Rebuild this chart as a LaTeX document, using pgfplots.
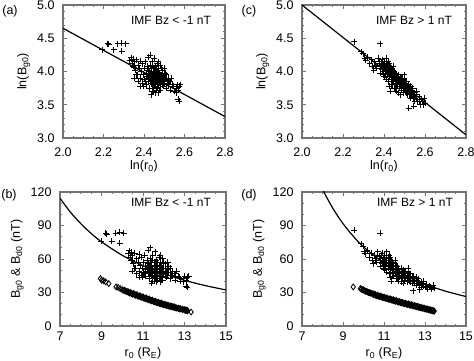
\documentclass[border=0pt]{standalone}
\usepackage{fontspec}
\setmainfont{Liberation Sans}
\usepackage{pgfplots}
\usepackage{pgfplotstable}
\pgfplotsset{compat=1.18}
\definecolor{framegray}{gray}{0.45}

\pgfplotstableread{
lr lB
2.195 4.33
2.220 4.42
2.225 4.41
2.250 4.33
2.270 4.42
2.290 4.43
2.310 4.42
2.290 4.31
2.330 4.17
2.335 4.21
2.340 4.12
2.345 4.19
2.350 4.07
2.350 4.15
2.355 4.02
2.360 4.18
2.365 3.95
2.370 3.85
2.370 4.10
2.375 4.05
2.380 4.16
2.380 3.90
2.385 4.00
2.390 3.82
2.390 4.12
2.395 3.95
2.400 4.05
2.400 3.88
2.405 4.15
2.410 3.98
2.410 3.80
2.415 4.08
2.415 3.92
2.420 4.22
2.420 4.02
2.420 3.85
2.425 3.95
2.425 3.75
2.430 4.10
2.430 3.90
2.430 4.25
2.435 4.00
2.435 3.82
2.440 3.95
2.440 4.15
2.440 3.70
2.445 3.88
2.445 4.05
2.450 3.98
2.450 3.78
2.450 4.20
2.455 3.92
2.455 4.08
2.455 3.68
2.460 3.85
2.460 4.00
2.465 3.95
2.465 4.12
2.465 3.75
2.470 3.90
2.470 4.05
2.475 3.82
2.475 3.98
2.480 3.88
2.480 4.10
2.480 3.72
2.485 3.95
2.490 3.85
2.490 4.02
2.495 3.78
2.500 3.92
2.500 3.82
2.505 3.98
2.510 3.88
2.510 3.75
2.520 3.90
2.520 3.80
2.530 3.85
2.530 3.72
2.540 3.80
2.550 3.70
2.560 3.75
2.565 3.80
2.570 3.72
2.575 3.78
2.575 3.55
2.570 3.58
2.580 3.80
2.560 3.68
2.435 3.65
2.445 3.92
2.425 3.88
2.415 4.05
2.455 3.85
2.465 3.88
2.475 3.92
2.445 3.98
2.435 3.93
2.455 3.95
2.460 3.72
2.470 3.68
2.480 3.80
2.490 3.95
2.500 4.05
2.470 4.15
2.405 3.85
2.395 3.78
2.380 3.78
2.360 3.95
2.350 3.90
2.345 4.08
2.440 3.85
2.450 3.90
2.430 3.98
2.420 3.95
2.510 3.95
2.525 3.85
2.545 3.78
2.535 3.90
2.485 3.88
2.495 3.90
2.425 4.00
2.435 4.05
2.445 3.80
2.450 4.05
2.455 4.00
2.460 3.92
2.465 3.82
2.470 3.98
2.475 3.85
2.480 3.95
2.485 4.05
2.490 3.88
2.495 3.85
2.500 3.98
2.505 3.88
2.515 3.82
2.440 4.08
2.430 3.85
2.420 3.90
2.410 3.92
2.450 3.85
2.460 4.05
2.470 3.80
2.480 3.85
2.490 3.80
2.440 3.75
2.455 3.80
2.465 4.00
2.445 3.70
2.475 3.72
}\dataneg

\pgfplotstableread{
lr lB
2.255 4.45
2.290 4.30
2.300 4.27
2.305 4.20
2.310 4.17
2.320 4.22
2.330 4.12
2.340 4.18
2.345 4.08
2.350 4.02
2.355 4.15
2.360 4.10
2.365 4.05
2.370 4.20
2.375 4.13
2.380 4.42
2.380 4.08
2.380 3.98
2.385 4.15
2.390 4.03
2.390 4.18
2.395 4.10
2.395 3.95
2.400 4.05
2.400 4.15
2.400 3.92
2.405 4.08
2.405 3.98
2.410 4.12
2.410 4.02
2.410 3.88
2.415 4.05
2.415 3.95
2.420 4.10
2.420 3.98
2.420 3.85
2.425 4.02
2.425 3.92
2.430 4.07
2.430 3.95
2.430 3.70
2.435 3.98
2.435 3.88
2.440 4.03
2.440 3.92
2.440 3.80
2.445 3.95
2.445 3.85
2.450 4.00
2.450 3.88
2.450 3.75
2.455 3.92
2.455 3.82
2.460 3.95
2.460 3.85
2.460 3.70
2.465 3.90
2.465 3.78
2.470 3.95
2.470 3.85
2.475 3.88
2.475 3.75
2.480 3.92
2.480 3.80
2.480 3.65
2.485 3.85
2.485 3.72
2.490 3.90
2.490 3.78
2.495 3.82
2.495 3.68
2.500 3.88
2.500 3.75
2.500 3.95
2.505 3.80
2.505 3.70
2.510 3.85
2.510 3.72
2.515 3.78
2.515 3.65
2.520 3.80
2.520 3.70
2.520 3.45
2.525 3.75
2.530 3.68
2.530 3.60
2.535 3.72
2.540 3.65
2.540 3.75
2.545 3.60
2.550 3.68
2.550 3.55
2.555 3.62
2.560 3.58
2.560 3.70
2.565 3.55
2.570 3.62
2.575 3.50
2.580 3.58
2.585 3.55
2.590 3.50
2.595 3.60
2.600 3.52
2.545 3.48
2.470 3.68
2.455 3.75
2.435 3.80
2.425 3.78
2.445 4.08
2.425 4.12
2.410 4.20
2.435 3.92
2.465 3.88
2.485 3.80
2.475 3.82
2.495 3.75
2.455 3.90
2.445 3.95
2.415 4.00
2.405 4.02
2.395 4.05
2.500 3.72
2.510 3.78
2.530 3.72
2.460 3.80
2.440 3.88
2.410 4.08
2.415 4.12
2.420 4.05
2.425 3.98
2.430 4.02
2.435 4.05
2.440 3.98
2.445 4.00
2.450 3.92
2.455 3.98
2.460 3.90
2.465 3.85
2.470 3.90
2.475 3.80
2.480 3.85
2.485 3.90
2.490 3.85
2.495 3.78
2.500 3.80
2.505 3.85
2.510 3.68
2.515 3.72
2.520 3.75
2.525 3.65
2.530 3.78
2.535 3.65
2.540 3.70
2.550 3.62
2.560 3.65
2.570 3.55
2.400 4.10
2.390 4.08
2.395 4.00
2.405 3.95
2.420 4.15
}\datapos

\pgfplotstableread{
r Bd
8.95 42.5
9.00 41.0
9.10 40.5
9.20 39.5
9.35 38.0
9.70 35.0
9.80 34.5
9.90 33.5
10.00 32.5
10.05 31.8
10.10 32.0
10.15 31.4
10.20 31.0
10.25 30.6
10.30 30.5
10.325 30.0
10.35 29.5
10.40 30.0
10.425 29.4
10.45 29.0
10.50 28.5
10.525 28.7
10.55 29.2
10.60 28.0
10.625 28.0
10.65 27.5
10.70 28.2
10.725 27.3
10.75 27.0
10.80 26.5
10.825 26.6
10.85 27.2
10.90 26.0
10.925 25.9
10.95 25.5
11.00 26.2
11.025 25.3
11.05 25.0
11.10 24.6
11.125 24.6
11.15 25.3
11.20 24.0
11.225 24.0
11.25 23.6
11.30 24.2
11.325 23.4
11.35 23.0
11.40 22.6
11.425 22.8
11.45 23.2
11.50 22.0
11.525 22.2
11.55 21.6
11.60 22.2
11.625 21.5
11.65 21.0
11.70 20.7
11.725 21.0
11.75 21.3
11.80 20.2
11.825 20.4
11.85 19.8
11.90 20.4
11.925 19.8
11.95 19.4
12.00 19.0
12.025 19.3
12.05 19.6
12.10 18.6
12.125 18.7
12.15 18.2
12.20 18.8
12.225 18.2
12.25 17.8
12.30 17.5
12.325 17.7
12.35 18.0
12.40 17.1
12.425 17.2
12.45 16.8
12.50 17.3
12.525 16.7
12.55 16.4
12.60 16.1
12.625 16.2
12.70 15.8
12.725 15.7
12.75 15.3
12.80 15.6
12.825 15.2
12.90 14.9
12.925 14.7
13.00 14.6
13.025 14.2
13.05 14.0
13.10 14.3
13.125 13.8
13.15 13.6
13.32 12.5
}\dianeg

\pgfplotstableread{
r Bd
9.50 35.0
9.85 33.5
9.90 33.0
9.95 32.3
10.00 32.5
10.05 31.5
10.10 31.2
10.15 31.0
10.20 30.5
10.25 30.0
10.30 29.8
10.35 29.5
10.40 29.2
10.45 28.8
10.475 28.6
10.50 28.0
10.55 28.5
10.575 28.0
10.60 27.5
10.65 27.0
10.675 27.3
10.70 27.6
10.75 26.6
10.775 26.7
10.80 26.2
10.85 26.8
10.875 26.2
10.90 25.8
10.95 25.4
10.975 25.6
11.00 26.0
11.05 25.0
11.075 25.0
11.10 24.6
11.15 25.2
11.175 24.5
11.20 24.2
11.25 23.8
11.275 24.0
11.30 24.4
11.35 23.4
11.375 23.5
11.40 23.0
11.45 23.6
11.475 23.0
11.50 22.6
11.55 22.2
11.575 22.5
11.60 22.8
11.65 21.8
11.675 21.9
11.70 21.4
11.75 22.0
11.775 21.4
11.80 21.0
11.85 20.7
11.875 20.9
11.90 21.2
11.95 20.3
11.975 20.4
12.00 20.0
12.05 20.5
12.075 19.9
12.10 19.6
12.15 19.3
12.175 19.4
12.20 19.8
12.25 18.9
12.275 18.9
12.30 18.6
12.35 19.1
12.375 18.5
12.40 18.2
12.45 17.9
12.475 18.0
12.50 18.4
12.55 17.5
12.575 17.5
12.60 17.2
12.65 17.6
12.675 17.0
12.70 16.8
12.75 16.5
12.775 16.5
12.80 16.9
12.85 16.1
12.875 16.0
12.90 15.8
12.95 16.2
12.975 15.6
13.00 15.4
13.05 15.1
13.075 15.1
13.10 15.5
13.15 14.7
13.175 14.6
13.20 14.4
13.25 14.7
13.275 14.2
13.30 14.0
13.35 13.7
13.375 13.7
13.40 13.9
13.425 13.5
13.45 13.3
}\diapos

\pgfplotsset{
  panel/.style={
    scale only axis,
    axis line style={draw=framegray, line width=1.3pt},
    tick style={framegray, line width=0.7pt},
    major tick length=4pt, minor tick length=2.2pt,
    tick align=inside,
    every tick label/.append style={font=\fontsize{12.5}{14}\selectfont},
    label style={font=\fontsize{12.5}{14}\selectfont},
    /pgf/number format/assume math mode=true,
  },
  toppanel/.style={
    panel,
    xmin=2.0, xmax=2.8, ymin=3.0, ymax=5.0,
    xtick={2.0,2.2,2.4,2.6,2.8}, ytick={3.0,3.5,4.0,4.5,5.0},
    minor x tick num=3, minor y tick num=4,
    xticklabel style={/pgf/number format/.cd, fixed, fixed zerofill, precision=1},
    yticklabel style={/pgf/number format/.cd, fixed, fixed zerofill, precision=1},
    xticklabel shift=6pt, yticklabel shift=5pt,
    xlabel={ln(r\textsubscript{0})},
    ylabel={ln(B\textsubscript{g0})},
    xlabel style={yshift=3pt},
  },
  botpanel/.style={
    panel,
    xmin=7, xmax=15, ymin=0, ymax=120,
    xtick={7,9,11,13,15}, ytick={0,30,60,90,120},
    minor x tick num=3, minor y tick num=2,
    xticklabel shift=2pt, yticklabel shift=5pt,
    xlabel={r\textsubscript{0} (R\textsubscript{E})},
    ylabel={B\textsubscript{g0} \& B\textsubscript{d0} (nT)},
  },
  plusmk/.style={only marks, mark=+, mark size=3pt, mark options={line width=0.65pt, black}},
  diamk/.style={only marks, mark=diamond, mark size=2.9pt, mark options={line width=0.85pt, black, fill=white}},
  fitline/.style={black, line width=1.2pt, no marks},
}

\begin{document}
\begin{tikzpicture}[x=1pt,y=1pt]
\path[use as bounding box] (0,0) rectangle (474,361);

% (a)
\begin{axis}[toppanel, at={(63pt,223pt)}, anchor=south west, width=162pt, height=133pt]
\addplot[plusmk] table[x=lr, y=lB] {\dataneg};
\addplot[fitline] coordinates {(2.0,4.65) (2.8,3.322)};
\end{axis}

% (c)
\begin{axis}[toppanel, at={(302pt,223pt)}, anchor=south west, width=164pt, height=133pt]
\addplot[plusmk] table[x=lr, y=lB] {\datapos};
\addplot[fitline] coordinates {(2.0,5.0) (2.8,3.048)};
\end{axis}

% (b)
\begin{axis}[botpanel, at={(60pt,35pt)}, anchor=south west, width=166pt, height=134pt]
\addplot[plusmk] table[x expr={exp(\thisrow{lr})}, y expr={exp(\thisrow{lB})}] {\dataneg};
\addplot[diamk] table[x=r, y=Bd] {\dianeg};
\addplot[fitline, smooth] coordinates {(7,114.4) (7.5,102.0) (8,91.7) (8.5,82.9) (9,75.4) (10,63.3) (11,54.0) (12,46.8) (13,40.9) (14,36.2) (15,32.3)};
\end{axis}

% (d)
\begin{axis}[botpanel, at={(302pt,35pt)}, anchor=south west, width=164pt, height=134pt]
\addplot[plusmk] table[x expr={exp(\thisrow{lr})}, y expr={exp(\thisrow{lB})}] {\datapos};
\addplot[diamk] table[x=r, y=Bd] {\diapos};
\addplot[fitline, smooth] coordinates {(8.0,122.3) (8.5,105.5) (9,91.7) (9.5,80.4) (10,70.9) (11,56.2) (12,45.5) (13,37.4) (14,31.2) (15,26.4)};
\end{axis}

\node[font=\fontsize{12.5}{14}\selectfont] at (10,350) {(a)};
\node[font=\fontsize{12.5}{14}\selectfont] at (249,350) {(c)};
\node[font=\fontsize{12.5}{14}\selectfont] at (9,166) {(b)};
\node[font=\fontsize{12.5}{14}\selectfont] at (249,166) {(d)};
\node[font=\fontsize{12}{14}\selectfont] at (171,341) {IMF Bz < -1 nT};
\node[font=\fontsize{12}{14}\selectfont] at (414,341) {IMF Bz > 1 nT};
\node[font=\fontsize{12}{14}\selectfont] at (171,159) {IMF Bz < -1 nT};
\node[font=\fontsize{12}{14}\selectfont] at (415,159) {IMF Bz > 1 nT};
\end{tikzpicture}
\end{document}
